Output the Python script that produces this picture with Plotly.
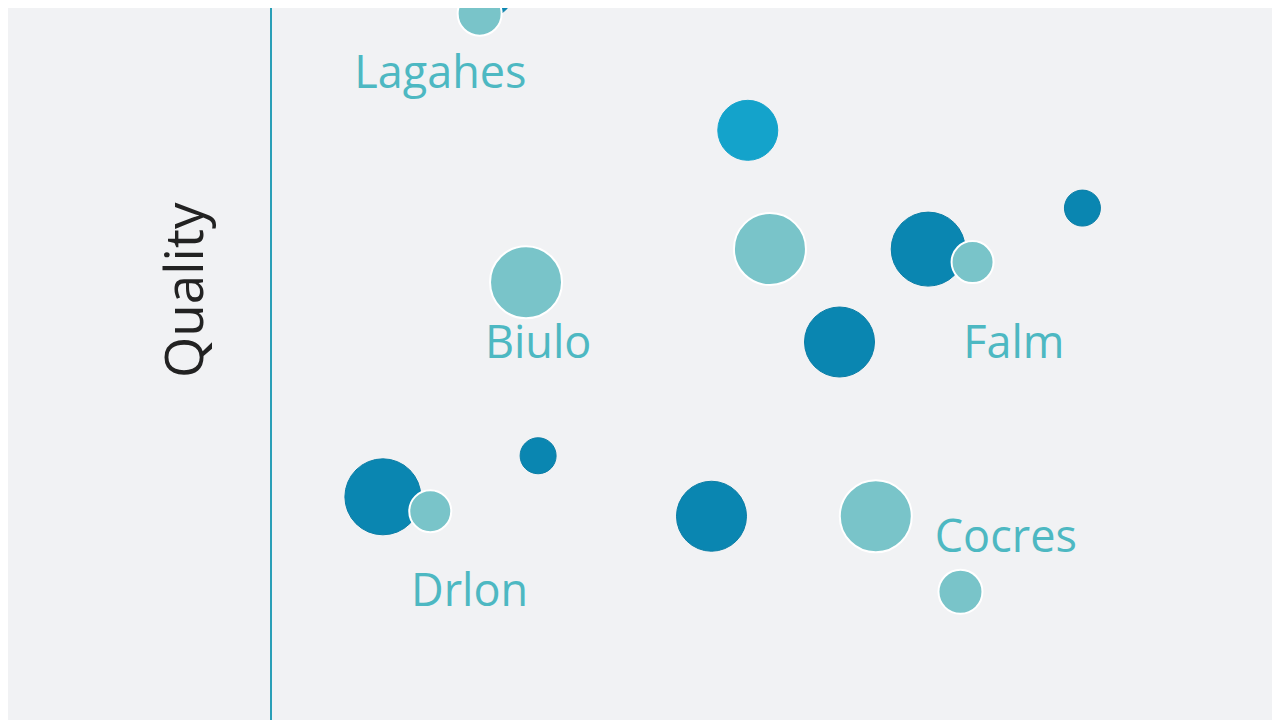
import plotly.graph_objects as go

# bubble data (x, y in chart units 0-100, size = bubble diameter)
dark_x = [22.0, 65.1, 80.4, 56.3, 11.0, 26.4, 43.6]
dark_y = [100.3, 65.4, 71.1, 52.5, 31.0, 36.7, 28.3]
dark_size = [34, 74, 36, 70, 76, 36, 70]

bright_x = [47.2]
bright_y = [81.9]
bright_size = [60]

light_x = [20.6, 49.4, 69.5, 25.2, 15.7, 59.9, 68.3]
light_y = [98.1, 65.4, 63.6, 60.8, 29.0, 28.3, 17.8]
light_size = [44, 72, 42, 72, 42, 72, 44]

label_names = ["Lagahes", "Biulo", "Falm", "Cocres", "Drlon"]
label_x = [16.7, 26.4, 73.6, 72.8, 19.6]
label_y = [89.3, 51.8, 51.8, 24.9, 17.4]

fig = go.Figure()

fig.add_trace(go.Scatter(
    x=dark_x, y=dark_y, mode="markers",
    marker=dict(size=dark_size, sizemode="diameter", color="#0a86b1",
                opacity=1, line=dict(color="#0a7ea6", width=1)),
    hoverinfo="skip"))

fig.add_trace(go.Scatter(
    x=bright_x, y=bright_y, mode="markers",
    marker=dict(size=bright_size, sizemode="diameter", color="#14a3cb",
                opacity=1, line=dict(color="#14a3cb", width=1)),
    hoverinfo="skip"))

fig.add_trace(go.Scatter(
    x=light_x, y=light_y, mode="markers",
    marker=dict(size=light_size, sizemode="diameter", color="#79c4c9",
                opacity=1, line=dict(color="white", width=2)),
    hoverinfo="skip"))

fig.add_trace(go.Scatter(
    x=label_x, y=label_y, mode="text", text=label_names,
    textfont=dict(family="Open Sans", size=45, color="#4db8c2"),
    hoverinfo="skip"))

fig.add_annotation(
    text="Quality", xref="paper", yref="paper", x=0, y=0.604,
    xanchor="center", yanchor="middle", xshift=-89, textangle=-90,
    showarrow=False, font=dict(family="Open Sans", size=53, color="#222222"))

# page body adds an 8px offset, so the figure is sized to fit the window
fig.update_layout(
    width=1272, height=712,
    margin=dict(l=264, r=0, t=0, b=0),
    paper_bgcolor="#f1f2f4", plot_bgcolor="#f1f2f4",
    showlegend=False,
    xaxis=dict(range=[0, 100], visible=False),
    yaxis=dict(range=[0, 100 * 712 / 720], showgrid=False, zeroline=False,
               showticklabels=False, ticks="",
               showline=True, linecolor="#2a9fb7", linewidth=2),
)

fig.write_html("out.html")
